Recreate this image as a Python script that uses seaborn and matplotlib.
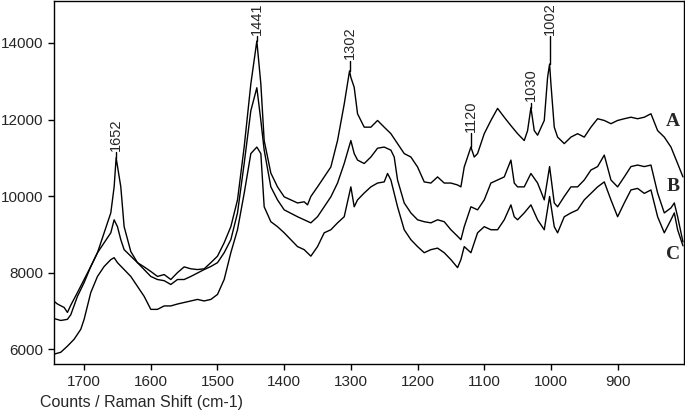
import numpy as np
import pandas as pd
import seaborn as sns
import matplotlib.pyplot as plt

# wavenumbers (cm-1) and counts
shift_a = [1745, 1740, 1730, 1725, 1720, 1710, 1700, 1690, 1680, 1670, 1660, 1655, 1652, 1645, 1640,
           1630, 1620, 1610, 1600, 1590, 1580, 1570, 1560, 1550, 1540, 1530, 1520, 1510, 1500, 1490,
           1480, 1470, 1460, 1450, 1441, 1435, 1430, 1420, 1410, 1400, 1390, 1380, 1370, 1365, 1360,
           1350, 1340, 1330, 1320, 1310, 1302, 1300, 1295, 1290, 1280, 1270, 1260, 1250, 1240, 1230,
           1220, 1210, 1200, 1190, 1180, 1170, 1160, 1150, 1140, 1135, 1130, 1125, 1120, 1115, 1110,
           1100, 1090, 1080, 1070, 1060, 1050, 1040, 1035, 1030, 1025, 1020, 1010, 1005, 1002, 1000,
           995, 990, 980, 970, 960, 950, 940, 930, 920, 910, 900, 890, 880, 870, 860, 850, 840, 830,
           820, 810, 802]
counts_a = [7250, 7180, 7090, 6960, 7150, 7480, 7820, 8160, 8520, 9040, 9560, 10240, 11000, 10240, 9200,
            8550, 8260, 8150, 8030, 7900, 7950, 7820, 8000, 8150, 8100, 8080, 8100, 8260, 8430, 8780,
            9200, 9900, 11280, 12930, 14050, 12930, 11450, 10600, 10240, 9980, 9900, 9820, 9850, 9770, 9990,
            10240, 10500, 10760, 11450, 12400, 13270, 13100, 12840, 12150, 11800, 11800, 11975, 11800, 11630, 11370,
            11110, 11020, 10760, 10370, 10340, 10500, 10340, 10340, 10290, 10240, 10760, 11020, 11280, 11020, 11110,
            11630, 11975, 12290, 12060, 11840, 11630, 11450, 11710, 12310, 11710, 11590, 11975, 13100, 13450, 12930,
            11800, 11540, 11370, 11540, 11630, 11540, 11800, 12020, 11975, 11890, 11975, 12020, 12060, 12020, 12060, 12150, 11710, 11540,
            11280, 10850, 10500]

shift_b = [1745, 1735, 1725, 1720, 1710, 1700, 1690, 1680, 1670, 1660, 1655, 1650, 1645, 1640, 1630,
           1620, 1610, 1600, 1590, 1580, 1570, 1560, 1550, 1540, 1530, 1520, 1510, 1500, 1490, 1480,
           1470, 1460, 1450, 1441, 1435, 1430, 1420, 1410, 1400, 1390, 1380, 1370, 1360, 1350, 1340,
           1330, 1320, 1310, 1300, 1295, 1290, 1280, 1270, 1260, 1250, 1240, 1235, 1230, 1220, 1210,
           1200, 1190, 1180, 1170, 1160, 1150, 1140, 1135, 1130, 1120, 1110, 1100, 1090, 1080, 1070,
           1060, 1055, 1050, 1040, 1030, 1020, 1010, 1002, 995, 990, 980, 970, 960, 950, 940, 930,
           920, 910, 900, 890, 880, 870, 860, 850, 840, 830, 820, 815, 810, 802]
counts_b = [6800, 6750, 6780, 6900, 7380, 7740, 8160, 8520, 8780, 9040, 9380, 9200, 8860, 8600, 8430,
            8260, 8080, 7900, 7820, 7790, 7690, 7820, 7820, 7900, 7990, 8080, 8160, 8260, 8520, 8860,
            9560, 10850, 12230, 12830, 11975, 11200, 10240, 9900, 9640, 9550, 9460, 9380, 9300, 9460, 9720,
            9980, 10340, 10850, 11450, 11110, 10940, 10850, 11020, 11250, 11280, 11200, 11020, 10420, 9820, 9560,
            9380, 9330, 9300, 9380, 9330, 9120, 8950, 8860, 9200, 9720, 9640, 9900, 10340, 10420, 10500,
            10940, 10340, 10240, 10240, 10590, 10340, 9900, 10770, 9820, 9720, 9990, 10240, 10240, 10420, 10680, 10770,
            11070, 10420, 10240, 10500, 10770, 10810, 10770, 10810, 10080, 9560, 9690, 9820, 9460, 8800]

shift_c = [1745, 1735, 1725, 1715, 1705, 1700, 1690, 1680, 1670, 1660, 1655, 1650, 1640, 1630, 1620,
           1610, 1600, 1590, 1580, 1570, 1560, 1550, 1540, 1530, 1520, 1510, 1500, 1490, 1480, 1470,
           1460, 1450, 1441, 1435, 1430, 1420, 1410, 1400, 1390, 1380, 1370, 1360, 1350, 1340, 1330,
           1320, 1310, 1300, 1295, 1290, 1280, 1270, 1260, 1250, 1245, 1240, 1230, 1220, 1210, 1200,
           1190, 1180, 1170, 1160, 1150, 1140, 1135, 1130, 1125, 1120, 1110, 1100, 1090, 1080, 1070,
           1060, 1055, 1050, 1040, 1030, 1020, 1010, 1002, 995, 990, 980, 970, 960, 950, 940, 930,
           920, 910, 900, 890, 880, 870, 860, 850, 840, 830, 820, 815, 810, 802]
counts_c = [5870, 5920, 6080, 6260, 6520, 6780, 7480, 7900, 8160, 8340, 8390, 8260, 8080, 7900, 7640,
            7380, 7040, 7040, 7130, 7130, 7180, 7220, 7260, 7300, 7260, 7300, 7430, 7820, 8520, 9120,
            10070, 11110, 11280, 11110, 9720, 9330, 9200, 9040, 8860, 8680, 8600, 8430, 8680, 9040, 9120,
            9300, 9460, 10240, 9720, 9900, 10080, 10240, 10340, 10370, 10590, 10420, 9720, 9120, 8860, 8680,
            8520, 8600, 8640, 8520, 8340, 8130, 8340, 8680, 8600, 8520, 9040, 9200, 9120, 9120, 9380,
            9770, 9460, 9380, 9560, 9770, 9380, 9120, 9990, 9200, 9040, 9460, 9560, 9640, 9900, 10070, 10240,
            10370, 9900, 9460, 9820, 10160, 10200, 10070, 10160, 9460, 9040, 9380, 9560, 9120, 8700]

curve_names = ["A", "B", "C"]
peak_shifts = [1652, 1441, 1302, 1120, 1030, 1002]
peak_text = ["1652", "1441", "1302", "1120", "1030", "1002"]
label_tops = [11150, 14180, 13530, 11640, 12440, 14180]   # where the peak text starts
name_y = [11950, 10240, 8470]

frames = []
for name, x, y in zip(curve_names, [shift_a, shift_b, shift_c], [counts_a, counts_b, counts_c]):
    frames.append(pd.DataFrame({"shift": x, "counts": y, "curve": name}))
spectra = pd.concat(frames, ignore_index=True)

sns.set_style("ticks")
plt.rcParams['font.family'] = ['Liberation Sans', 'DejaVu Sans']

fig = plt.figure(figsize=(6.85, 4.18), dpi=100)
ax = fig.add_axes([0.079, 0.128, 0.919, 0.870])

sns.lineplot(data=spectra, x="shift", y="counts", hue="curve", units="curve", estimator=None,
             sort=False, palette=["black"] * 3, linewidth=1.0, legend=False, ax=ax)

ax.set_xlim(1745, 801)
ax.set_ylim(5600, 15100)
ax.set_xticks([1700, 1600, 1500, 1400, 1300, 1200, 1100, 1000, 900])
ax.set_yticks([6000, 8000, 10000, 12000, 14000])
ax.set_xlabel("")
ax.set_ylabel("")
ax.tick_params(direction="out", length=4, width=1, labelsize=11, color="black")
for s in ax.spines.values():
    s.set_visible(True)
    s.set_linewidth(1.0)
    s.set_color("black")

# peak markers on curve A
for w, txt, top in zip(peak_shifts, peak_text, label_tops):
    yv = counts_a[shift_a.index(w)]
    ax.plot([w, w], [yv, top], color="black", linewidth=1.0)
    ax.text(w, top + 40, txt, rotation=90, ha="center", va="bottom", fontsize=10.5,
            family=['Liberation Sans Narrow', 'Liberation Sans', 'DejaVu Sans'])

for name, yv in zip(curve_names, name_y):
    ax.text(817, yv, name, ha="center", va="center", fontsize=14, fontweight="bold",
            family=['Liberation Serif', 'DejaVu Serif'])

fig.text(0.058, 0.018, "Counts / Raman Shift (cm-1)", fontsize=11.5, ha="left", va="bottom")

fig.savefig("out.png", dpi=100)
